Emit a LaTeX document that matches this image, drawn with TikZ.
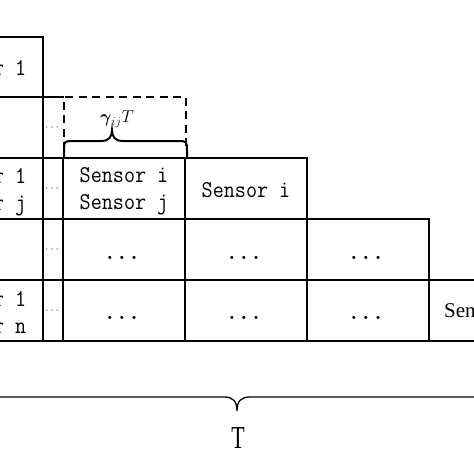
\documentclass[tikz,border=0pt]{standalone}
\usepackage{amsmath}
\usepackage{fontspec}
\usepackage{graphicx}
\newfontfamily\timesfont{Liberation Serif}
\newcommand{\tallt}[1]{\scalebox{1}[1.12]{#1}}
\begin{document}
\begin{tikzpicture}[x=1pt,y=-1pt,
  grid/.style={line width=1.5pt},
  dashbox/.style={line width=1.5pt, dash pattern=on 8pt off 5.5pt},
  cell/.style={font=\ttfamily\fontsize{21.5}{26}\selectfont, inner sep=0pt, anchor=base},
  dots/.style={font=\ttfamily\bfseries\fontsize{23}{26}\selectfont, inner sep=0pt, anchor=base},
  gap/.style={font=\fontsize{12}{13}\selectfont, text=black!70, inner sep=0pt}]
\useasboundingbox (0,0) rectangle (474,474);
\fill[white] (0,0) rectangle (474,474);
\clip (0,0) rectangle (474,474);
% grid
\draw[grid] (-80,37) -- (43,37) -- (43,341);
\draw[grid] (-80,97) -- (64,97);
\draw[grid] (-80,158) -- (307,158) -- (307,341);
\draw[grid] (-80,219) -- (429,219) -- (429,341);
\draw[grid] (-80,280) -- (490,280);
\draw[grid] (-80,341) -- (490,341);
\draw[grid] (63,158) -- (63,341);
\draw[grid] (185,158) -- (185,341);
% dashed box
\draw[dashbox] (64,150) -- (64,97) -- (186,97) -- (186,150);
% upper brace
\draw[line width=2pt] (64,158) -- (64,151) .. controls (64,141) .. (74,141) -- (101,141)
  .. controls (109,141) and (112,137) .. (112,130)
  .. controls (112,137) and (115,141) .. (123,141) -- (177,141)
  .. controls (187,141) .. (187,151) -- (187,158);
\node[anchor=base, inner sep=0pt, font=\fontsize{17.28}{20}\selectfont] (gam) at (117,122) {$\boldsymbol{\gamma}_{ij}T$};
% left column
\node[cell] (l1) at (-18,75) {\tallt{Sensor 1}};
\node[cell] (l2a) at (-18,183) {\tallt{Sensor 1}};
\node[cell] (l2b) at (-18,210) {\tallt{Sensor j}};
\node[cell] (l3a) at (-18,306) {\tallt{Sensor 1}};
\node[cell] (l3b) at (-18,333) {\tallt{Sensor n}};
% gap dots
\node[gap] (g1) at (53,127.5) {$\cdots$};
\node[gap] (g2) at (53,188.5) {$\cdots$};
\node[gap] (g3) at (53,249.5) {$\cdots$};
\node[gap] (g4) at (53,311) {$\cdots$};
% cells
\node[cell] (c1a) at (124,182) {\tallt{Sensor i}};
\node[cell] (c1b) at (124,209) {\tallt{Sensor j}};
\node[cell] (c2) at (246,197) {\tallt{Sensor i}};
\node[dots] (d1) at (122,259) {...};
\node[dots] (d2) at (244,259) {...};
\node[dots] (d3) at (366,259) {...};
\node[dots] (e1) at (122,319) {...};
\node[dots] (e2) at (244,319) {...};
\node[dots] (e3) at (366,319) {...};
\node[anchor=base west, inner sep=0pt, font=\timesfont\fontsize{21}{25}\selectfont] (sn) at (444,317) {Sensor n};
% bottom brace
\draw[line width=1.3pt] (-10,397) -- (224,397) .. controls (233,397) and (237,401) .. (237,411)
  .. controls (237,401) and (241,397) .. (250,397) -- (484,397);
\node[anchor=base, inner sep=0pt, font=\timesfont\fontsize{32}{38}\selectfont] (T) at (238,448) {\scalebox{0.68}[1]{T}};
\end{tikzpicture}
\end{document}
